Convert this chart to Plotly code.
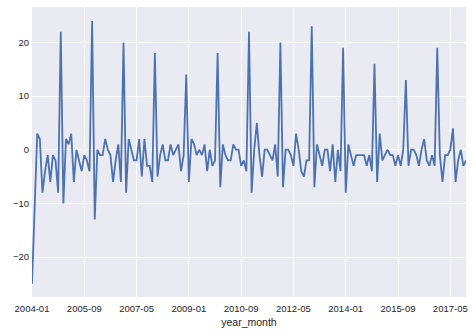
import pandas as pd
import plotly.graph_objects as go

# monthly values, one list per year (Jan..Dec)
y2004 = [-25, -11, 3, 2, -8, -4, -1, -6, -1, -2, -8, 22]
y2005 = [-10, 2, 1, 3, -6, 0, -2, -4, -1, -2, -4, 24]
y2006 = [-13, 0, -1, -1, 2, 0, -1, -6, -2, 1, -6, 20]
y2007 = [-8, 2, 0, -2, -2, 2, -5, 2, -3, -3, -6, 18]
y2008 = [-5, -1, 1, -2, -2, 1, -1, 0, 1, -4, -1, 14]
y2009 = [-6, 2, 1, -1, 0, -1, 1, -4, 0, -3, -2, 18]
y2010 = [-7, 1, -1, -2, -2, 1, 0, 0, -3, -2, -4, 22]
y2011 = [-8, 0, 5, -1, -5, 0, 0, -1, -2, 1, -5, 20]
y2012 = [-7, 0, 0, -1, -3, 3, 0, -4, -5, -2, -2, 23]
y2013 = [-7, 1, -1, -3, 0, 0, -4, 1, -6, 0, -4, 19]
y2014 = [-8, 1, -1, -3, -1, -1, -1, -1, -3, -1, -4, 16]
y2015 = [-6, 3, -2, -1, 0, -1, -1, -3, -1, -3, 0, 13]
y2016 = [-3, 0, 0, -1, -3, 0, 2, -2, -3, -1, -3, 19]
y2017 = [-1, -6, -1, -1, 0, 4, -6, -2, 0, -3, -2]

values = (y2004 + y2005 + y2006 + y2007 + y2008 + y2009 + y2010 + y2011
          + y2012 + y2013 + y2014 + y2015 + y2016 + y2017)
months = [p.strftime("%Y-%m") for p in pd.period_range("2004-01", periods=len(values), freq="M")]
x_ticks = months[::20]
y_ticks = [-20, -10, 0, 10, 20]
y_tick_text = ["\u221220", "\u221210", "0", "10", "20"]

fig = go.Figure()
fig.add_trace(go.Scatter(x=months, y=values, mode="lines",
                         line=dict(color="#4C72B0", width=1.8), showlegend=False))

font = dict(family="Liberation Sans, Arial, sans-serif", size=9.5, color="#262626")
fig.update_layout(
    width=474, height=335,
    margin=dict(l=32, r=8, t=7, b=38),
    paper_bgcolor="white", plot_bgcolor="#EAEAF2",
    font=font,
    xaxis=dict(type="category", range=[0, len(values) - 1], automargin=False,
               tickmode="array", tickvals=x_ticks, ticktext=x_ticks,
               showgrid=True, gridcolor="white", gridwidth=1, zeroline=False,
               showline=False, ticks="", tickfont=font, ticklabelstandoff=4,
               title=dict(text="year_month", font=dict(family=font["family"], size=10.5, color="#262626"), standoff=6)),
    yaxis=dict(range=[-27.45, 26.6], tickmode="array", tickvals=y_ticks, ticktext=y_tick_text,
               automargin=False, ticklabelstandoff=2,
               showgrid=True, gridcolor="white", gridwidth=1, zeroline=False,
               showline=False, ticks="", tickfont=font),
)
fig.write_html("out.html", config={"displayModeBar": False},
               post_script="document.body.style.margin='0';document.body.style.overflow='hidden';")
